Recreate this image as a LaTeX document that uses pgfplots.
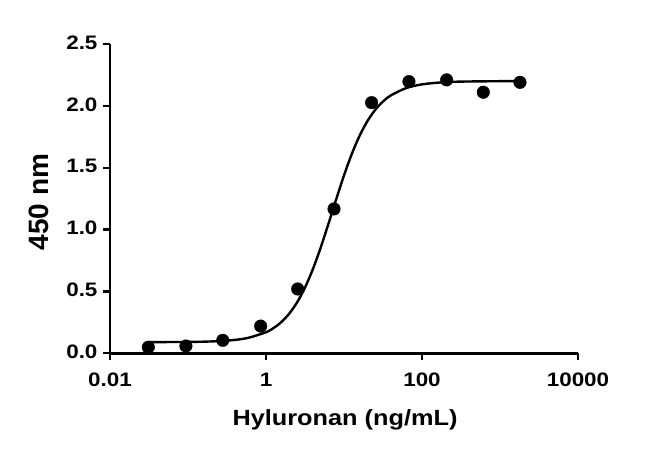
\documentclass[border=0pt]{standalone}
\usepackage{fontspec}
\setmainfont{Liberation Sans}[FakeStretch=1.15]
\newfontfamily\ylabfont{Liberation Sans}
\usepackage{pgfplots}
\pgfplotsset{compat=1.18}
\begin{document}
\begin{tikzpicture}
\useasboundingbox (0pt,0pt) rectangle (650pt,455pt);
\begin{axis}[
  at={(110pt,101.7pt)}, anchor=south west,
  scale only axis, width=468pt, height=309.3pt,
  xmode=log, log basis x=10,
  xmin=0.01, xmax=10000, ymin=0, ymax=2.5,
  axis lines=left,
  axis line style={-, line width=2.6pt, black},
  xtick={0.01,1,100,10000}, xticklabels={0.01,1,100,10000},
  xminorticks=false,
  ytick={0,0.5,1,1.5,2,2.5}, yticklabels={0.0,0.5,1.0,1.5,2.0,2.5},
  tick align=outside, major tick length=7pt,
  every tick/.style={line width=2.2pt, black},
  /pgf/number format/assume math mode=true,
  ticklabel style={font=\fontsize{19.5}{19.5}\selectfont\bfseries},
  xticklabel style={anchor=north, yshift=-9pt},
  yticklabel style={anchor=east, xshift=-2pt, yshift=1.5pt},
  clip=false,
]
\addplot[black, line width=2.4pt, smooth, no marks] coordinates {
(0.031,0.0903) (0.1,0.0919) (0.1778,0.0948) (0.3162,0.1024) (0.5623,0.1218)
(1,0.1703) (1.2589,0.2054) (1.5849,0.2546) (1.9953,0.3224) (2.5119,0.4133)
(3.1623,0.5314) (3.9811,0.6786) (5.0119,0.8523) (6.3096,1.0452) (7.9433,1.2449)
(10,1.4376) (12.589,1.6115) (15.849,1.7585) (19.953,1.8768) (25.119,1.9677)
(31.623,2.0354) (39.811,2.0845) (63.096,2.1444) (100,2.1736) (177.83,2.1897)
(316.23,2.1960) (1000,2.1994) (1804,2.2000)
};
\addplot[only marks, mark=*, mark size=6.3pt, black] coordinates {
(0.031,0.049) (0.094,0.059) (0.279,0.105) (0.855,0.22) (2.55,0.52)
(7.45,1.167) (22.6,2.026) (68,2.196) (207,2.21) (611,2.11) (1804,2.19)
};
\end{axis}
\node[anchor=base, font=\fontsize{22}{22}\selectfont\bfseries] at (345pt,30pt) {Hyluronan (ng/mL)};
\node[rotate=90, anchor=center, font=\ylabfont\fontsize{28}{28}\selectfont\bfseries] at (38.8pt,253pt) {450 nm};
\end{tikzpicture}
\end{document}
